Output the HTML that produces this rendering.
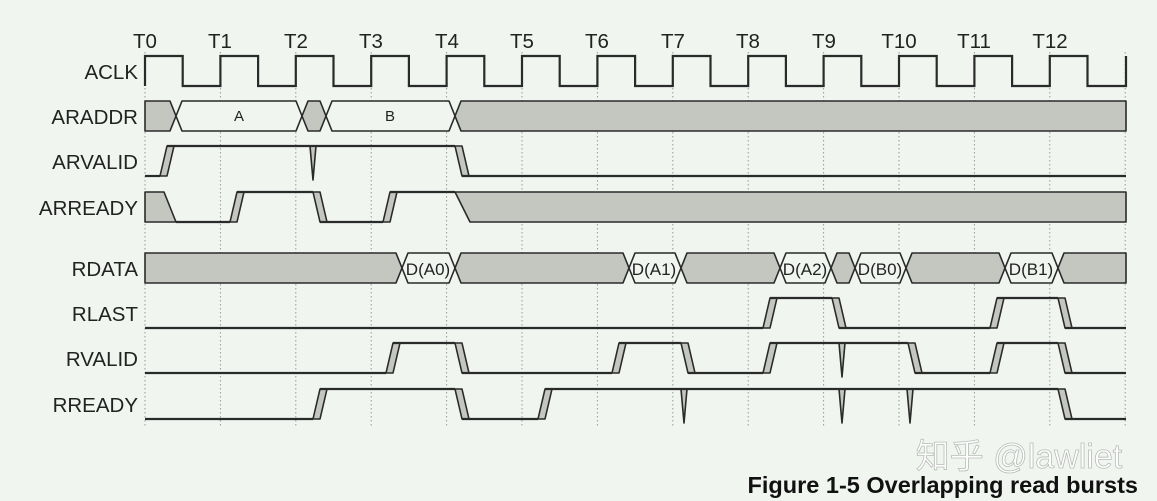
<!DOCTYPE html>
<html><head><meta charset="utf-8"><style>
html,body{margin:0;padding:0;background:#f0f5f0;}
svg{display:block}
text{font-family:"Liberation Sans","Noto Sans CJK SC",sans-serif;}
</style></head><body>
<svg id="s" width="1157" height="501" viewBox="0 0 1157 501" xmlns="http://www.w3.org/2000/svg">
<rect width="1157" height="501" fill="#f0f5f0"/>
<g id="grid"></g>
<g id="sig"></g>
<g font-size="20.5" fill="#222" text-anchor="middle">
<text x="145" y="48">T0</text><text x="220" y="48">T1</text><text x="296" y="48">T2</text>
<text x="371" y="48">T3</text><text x="447" y="48">T4</text><text x="522" y="48">T5</text>
<text x="597" y="48">T6</text><text x="673" y="48">T7</text><text x="748" y="48">T8</text>
<text x="824" y="48">T9</text><text x="899" y="48">T10</text><text x="974" y="48">T11</text>
<text x="1050" y="48">T12</text>
</g>
<g font-size="20.5" fill="#222" text-anchor="end">
<text x="138" y="79">ACLK</text><text x="138" y="124">ARADDR</text>
<text x="138" y="169">ARVALID</text><text x="138" y="215">ARREADY</text>
<text x="138" y="276">RDATA</text><text x="138" y="321">RLAST</text>
<text x="138" y="366">RVALID</text><text x="138" y="412">RREADY</text>
</g>
<g font-size="15" fill="#222" text-anchor="middle">
<text x="239" y="121">A</text><text x="390" y="121">B</text>
</g>
<g font-size="17" fill="#222" text-anchor="middle" textLength="48">
<text x="428" y="275">D(A0)</text><text x="654" y="275">D(A1)</text>
<text x="805" y="275">D(A2)</text><text x="880" y="275">D(B0)</text>
<text x="1031" y="275">D(B1)</text>
</g>
<text x="1019" y="468" font-size="34" fill="#ffffff" stroke="#b8bcb8" stroke-width="0.8" text-anchor="middle">知乎 @lawliet</text>
<text x="1138" y="493" font-size="23.5" font-weight="bold" fill="#111" text-anchor="end">Figure 1-5 Overlapping read bursts</text>
</svg>
<script>
var NS="http://www.w3.org/2000/svg",G=document.getElementById('grid'),S=document.getElementById('sig');
function el(p,t,a){var e=document.createElementNS(NS,t);for(var k in a)e.setAttribute(k,a[k]);p.appendChild(e);return e;}
var P=75.4,X0=145,END=1126,DK="#2a2a2a",GR="#c3c7c0";
for(var k=0;k<=13;k++){var x=X0+P*k;if(x>END)break;el(G,'line',{x1:x,y1:52,x2:x,y2:428,stroke:"#999",'stroke-width':1,'stroke-dasharray':"1.5,2.5"});}
var d="M145,86 ";
for(var k=0;k<13;k++){var x=X0+P*k;d+="L"+x+",86 L"+x+",56 L"+(x+P/2)+",56 L"+(x+P/2)+",86 ";}
d+="L"+END+",86 L"+END+",56";
el(S,'path',{d:d,fill:"none",stroke:DK,'stroke-width':2.2});
function line(x1,y1,x2,y2){el(S,'line',{x1:x1,y1:y1,x2:x2,y2:y2,stroke:DK,'stroke-width':2.2});}
function poly(pts,fill){el(S,'polygon',{points:pts,fill:fill,stroke:DK,'stroke-width':1.6,'stroke-linejoin':'round'});}
function wire(hi,lo,start,ev){
 ev.forEach(function(e){
  var t=e[0],x=e[1];
  if(t=='r'){poly(x+","+lo+" "+(x+7)+","+lo+" "+(x+14)+","+hi+" "+(x+7)+","+hi,GR);}
  else if(t=='f'){poly(x+","+hi+" "+(x+7)+","+hi+" "+(x+14)+","+lo+" "+(x+7)+","+lo,GR);}
  else if(t=='s'){poly((x-3)+","+hi+" "+(x+3)+","+hi+" "+x+","+(hi+34),GR);}
 });
}
function bus(top,bot,segs){
 var m=(top+bot)/2,h=6;
 segs.forEach(function(s){
  var a=s[0],b=s[1],pts=[];
  if(a<=X0) pts.push(X0+","+top); else pts.push(a+","+m,(a+h)+","+top);
  if(b>=END) pts.push(END+","+top,END+","+bot); else pts.push((b-h)+","+top,b+","+m,(b-h)+","+bot);
  if(a<=X0) pts.push(X0+","+bot); else pts.push((a+h)+","+bot);
  poly(pts.join(" "),s[2]?GR:"#f0f5f0");
 });
}
bus(101,131,[[145,176,1],[176,302,0],[302,326,1],[326,455,0],[455,1126,1]]);
bus(253,283,[[145,402,1],[402,455,0],[455,629,1],[629,681,0],[681,780,1],[780,831,0],[831,855,1],[855,906,0],[906,1005,1],[1005,1058,0],[1058,1126,1]]);
wire(146,176,0,[['r',160],['s',313],['f',455]]);
line(X0,176,160,176);line(167,146,455,146);line(462,176,END,176);
poly("145,192 164,192 176,222 145,222",GR);
line(176,222,230,222);poly("230,222 237,222 244,192 237,192",GR);
line(237,192,313,192);poly("313,192 320,192 327,222 320,222",GR);
line(320,222,383,222);poly("383,222 390,222 397,192 390,192",GR);
line(390,192,455,192);poly("455,192 1126,192 1126,222 470,222",GR);
wire(298,328,0,[['r',763],['f',832],['r',990],['f',1058]]);
line(X0,328,763,328);line(770,298,832,298);line(839,328,990,328);line(997,298,1058,298);line(1065,328,END,328);
wire(343,373,0,[['r',386],['f',455],['r',612],['f',681],['r',763],['s',842],['f',908],['r',990],['f',1058]]);
line(X0,373,386,373);line(393,343,455,343);line(462,373,612,373);line(619,343,681,343);line(688,373,763,373);line(770,343,908,343);line(915,373,990,373);line(997,343,1058,343);line(1065,373,END,373);
wire(389,419,0,[['r',313],['f',455],['r',538],['s',684],['s',842],['s',910],['f',1058]]);
line(X0,419,313,419);line(320,389,455,389);line(462,419,538,419);line(545,389,1058,389);line(1065,419,END,419);
</script>
</body></html>
